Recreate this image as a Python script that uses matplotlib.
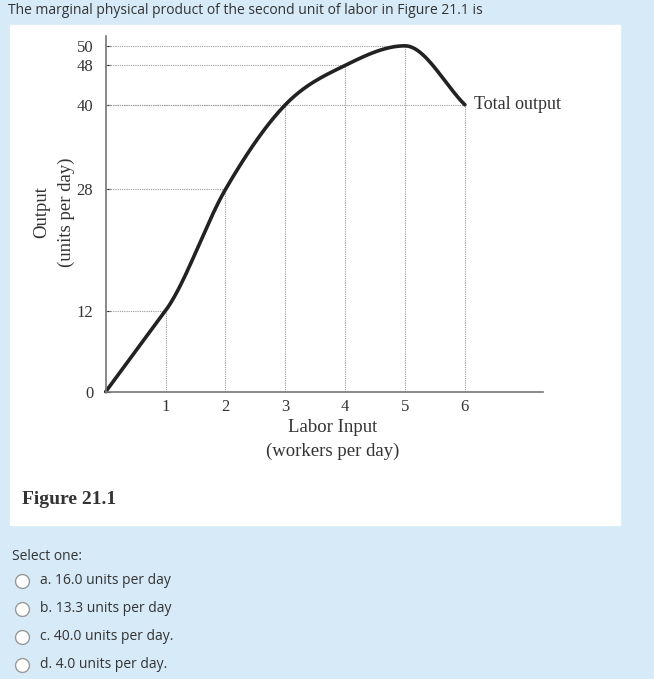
import numpy as np
import matplotlib
matplotlib.use("Agg")
import matplotlib.pyplot as plt
from matplotlib.lines import Line2D
from matplotlib.patches import Rectangle

labor = [0, 1, 2, 3, 4, 5, 6]
output = [0, 12, 28, 40, 48, 50, 40]
ytick_vals = [0, 12, 28, 40, 48, 50]
title = "The marginal physical product of the second unit of labor in Figure 21.1 is"
options = ["a. 16.0 units per day", "b. 13.3 units per day", "c. 40.0 units per day.", "d. 4.0 units per day."]

# non-uniform (not-to-scale) vertical axis of the original figure
scale_v = [0, 12, 28, 40, 48, 50, 52]
scale_p = [0, 81.7, 203.7, 289, 328.7, 348.4, 362]
fwd = lambda v: np.interp(v, scale_v, scale_p, left=-1e3, right=1e3)
inv = lambda p: np.interp(p, scale_p, scale_v)

W, H = 654, 679
fig = plt.figure(figsize=(W/100, H/100), dpi=100)
fig.patch.set_facecolor("#d7eaf8")
fig.add_artist(Rectangle((10/W, 1-525/H), 610/W, 500/H, transform=fig.transFigure, color="white", zorder=0))

ax = fig.add_axes([105.7/W, 1-391.7/H, 437/W, 356/H])
ax.set_facecolor("none")
ax.set_yscale("function", functions=(fwd, inv))
ax.set_xlim(0, 7.3)
ax.set_ylim(0, 51.5)
for s in ["top", "right"]:
    ax.spines[s].set_visible(False)
for s in ["left", "bottom"]:
    ax.spines[s].set_color("#777777")
    ax.spines[s].set_linewidth(1.2)

serif = "Liberation Serif"
ax.set_yticks(ytick_vals)
ax.set_yticklabels([str(v) for v in ytick_vals], fontfamily=serif, fontsize=12, color="#333333")
ax.set_xticks(labor[1:])
ax.set_xticklabels([str(v) for v in labor[1:]], fontfamily=serif, fontsize=12, color="#333333")
ax.tick_params(axis="x", length=0, pad=5)
ax.tick_params(axis="y", length=3, direction="in", pad=9)

# dotted guide lines
for x, y in zip(labor[1:], output[1:]):
    ax.plot([x, x], [0, y], ls=(0, (1, 1)), color="#999999", lw=0.8)
    ax.plot([0, x], [y, y], ls=(0, (1, 1)), color="#999999", lw=0.8)

# smooth curve: cubic Hermite in display-scaled space
X = np.array(labor, float)
Y = fwd(np.array(output, float))
m = np.zeros_like(Y)
m[0] = Y[1] - Y[0]
m[-1] = Y[-1] - Y[-2]
for i in range(1, len(Y)-1):
    m[i] = 0.5*(Y[i+1] - Y[i-1])
m[1] = Y[1] - Y[0]
peak = int(np.argmax(Y))
m[peak] = 0.0
xs, ps = [], []
t = np.linspace(0, 1, 50)
for i in range(len(X)-1):
    h00 = 2*t**3 - 3*t**2 + 1; h10 = t**3 - 2*t**2 + t
    h01 = -2*t**3 + 3*t**2;   h11 = t**3 - t**2
    ps.extend(h00*Y[i] + h10*m[i] + h01*Y[i+1] + h11*m[i+1])
    xs.extend(X[i] + t*(X[i+1]-X[i]))
ax.plot(xs, inv(np.array(ps)), color="#222222", lw=2.6, solid_capstyle="round", clip_on=False)

ax.text(6.15, 40, "Total output", fontfamily=serif, fontsize=13, va="center", color="#333333")

fig.text(333/W, 1-428/H, "Labor Input", fontfamily=serif, fontsize=13.5, ha="center", va="center", color="#333333")
fig.text(333/W, 1-451/H, "(workers per day)", fontfamily=serif, fontsize=13.5, ha="center", va="center", color="#333333")
fig.text(42/W, 1-212/H, "Output", fontfamily=serif, fontsize=13.5, ha="center", va="center", rotation=90, color="#333333")
fig.text(66/W, 1-212/H, "(units per day)", fontfamily=serif, fontsize=13.5, ha="center", va="center", rotation=90, color="#333333")
fig.text(22/W, 1-500/H, "Figure 21.1", fontfamily=serif, fontsize=14, fontweight="bold", va="center", color="#333333")

fig.text(8/W, 1-10/H, title, fontfamily="Open Sans", fontsize=10, va="center", color="#333333")
fig.text(12/W, 1-557/H, "Select one:", fontfamily="Open Sans", fontsize=10, va="center", color="#333333")
for i, o in enumerate(options):
    yy = 1-(581 + 28*i)/H
    fig.add_artist(Line2D([22/W], [yy], marker="o", markersize=10, mfc="white", mec="#999999", mew=1, transform=fig.transFigure))
    fig.text(40/W, yy, o, fontfamily="Open Sans", fontsize=10, va="center", color="#333333")

fig.savefig("out.png", dpi=100, facecolor=fig.get_facecolor())
